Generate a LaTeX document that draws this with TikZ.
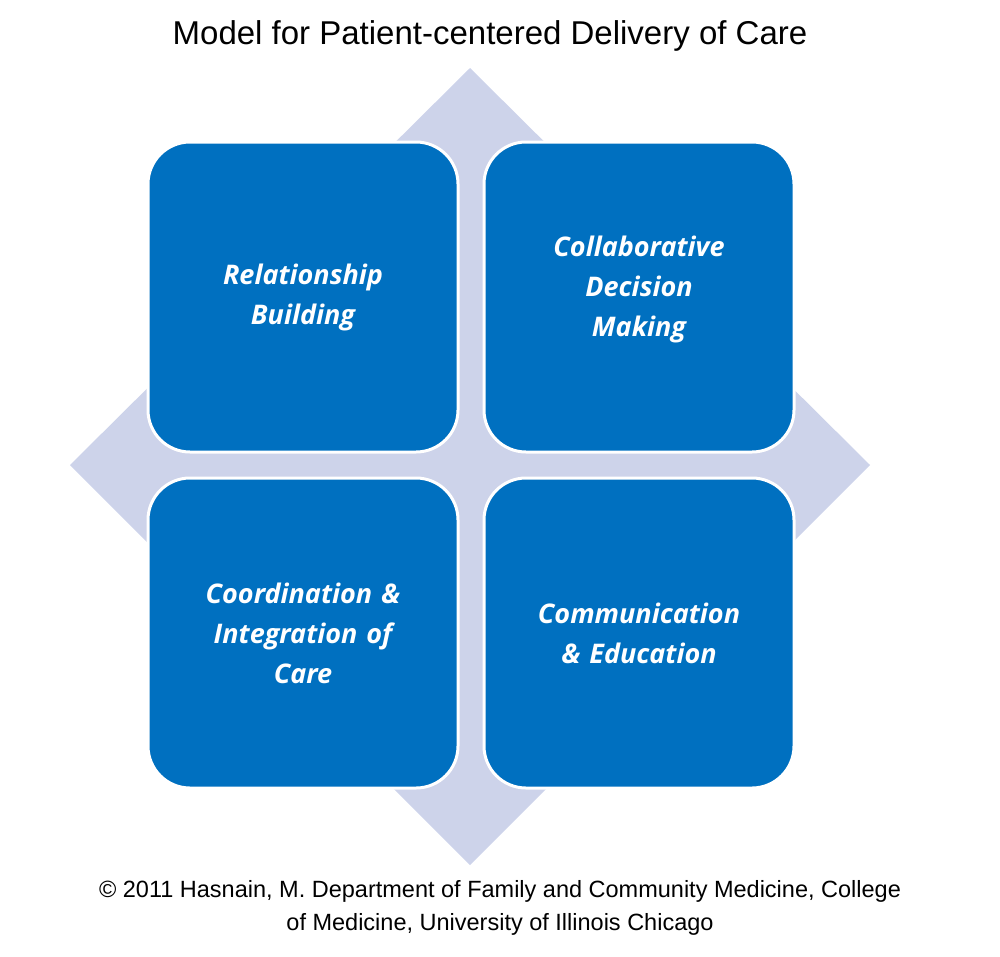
\documentclass[tikz,border=0pt]{standalone}
\usepackage{fontspec}
\setmainfont{Liberation Sans}
\newfontfamily\boxfont{Open Sans}
\definecolor{boxblue}{RGB}{0,112,192}
\definecolor{diam}{RGB}{205,211,234}
\begin{document}
\begin{tikzpicture}[x=1pt,y=-1pt,
  card/.style={fill=boxblue,draw=white,line width=3pt,rounded corners=42pt,minimum width=310pt,minimum height=310pt,text width=280pt,align=center,text=white,font=\boxfont\bfseries\itshape\fontsize{27}{40}\selectfont},
  lbl/.style={inner sep=0pt,align=center}]
\useasboundingbox (0,0) rectangle (1000,956);
\fill[diam] (470,68) coordinate (dt) -- (870,465) coordinate (dr) -- (470,865) coordinate (db) -- (70,465) coordinate (dl) -- cycle;
\node[card] (tl) at (303,297) {Relationship\\Building};
\node[card] (tr) at (639,297) {\raisebox{0pt}{}Collaborative\\Decision\\Making\\[-18pt]\mbox{}};
\node[card] (bl) at (303,633) {Coordination \&\\Integration of\\Care};
\node[card] (br) at (639,633) {Communication\\\& Education};
\node[lbl,font=\fontsize{33}{38}\selectfont] (title) at (490,36) {Model for Patient-centered Delivery of Care};
\node[lbl,font=\fontsize{23.5}{33}\selectfont] (foot) at (500,908) {\textcopyright\ 2011 Hasnain, M. Department of Family and Community Medicine, College\\of Medicine, University of Illinois Chicago};
\end{tikzpicture}
\end{document}
